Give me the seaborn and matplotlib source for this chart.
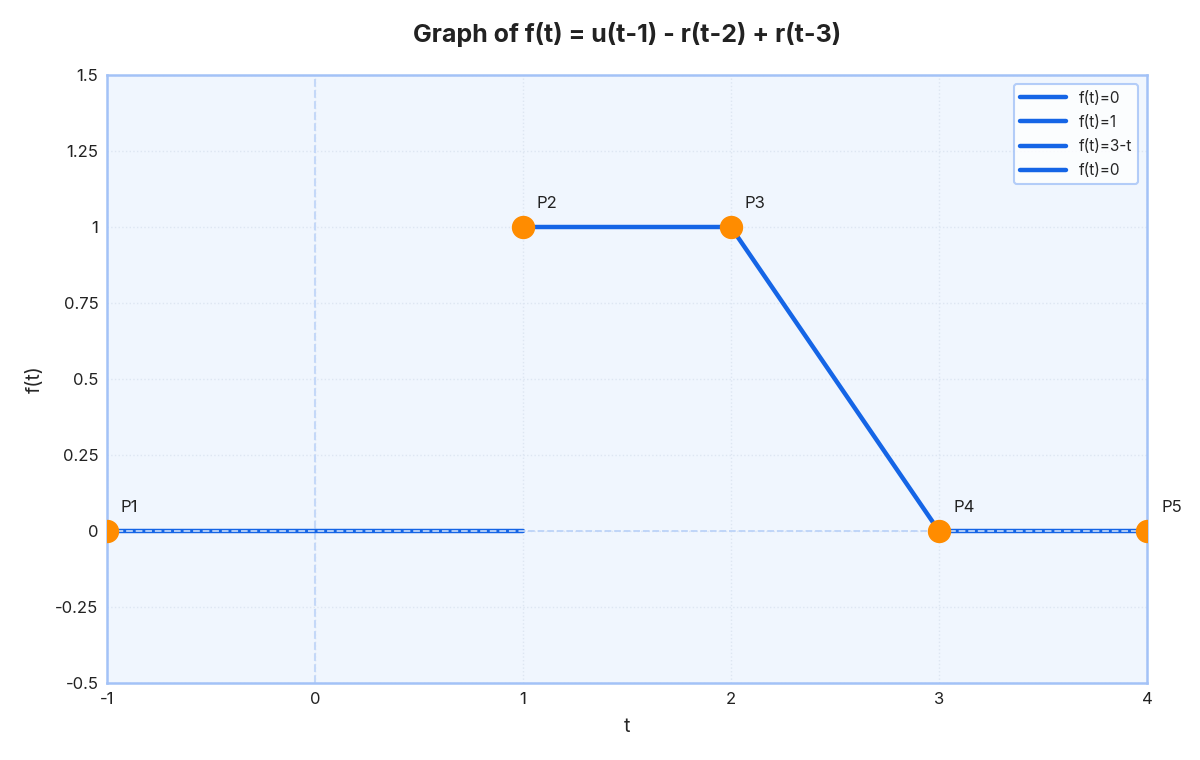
import matplotlib
matplotlib.use("Agg")
import matplotlib.pyplot as plt
import seaborn as sns
import pandas as pd

# piecewise segments of f(t)
seg_labels = ["f(t)=0", "f(t)=1", "f(t)=3-t", "f(t)=0"]
seg_t = [[-1, 1], [1, 2], [2, 3], [3, 4]]
seg_f = [[0, 0], [1, 1], [1, 0], [0, 0]]

# key points
pt_names = ["P1", "P2", "P3", "P4", "P5"]
pt_t = [-1, 1, 2, 3, 4]
pt_f = [0, 1, 1, 0, 0]

x_ticks = [-1, 0, 1, 2, 3, 4]
y_ticks = [-0.5, -0.25, 0, 0.25, 0.5, 0.75, 1, 1.25, 1.5]

LINE = "#1565e6"
DOT = "#ff8c00"
EDGE = "#a3c2f7"

sns.set_theme(style="white")
plt.rcParams["font.family"] = ["Inter", "DejaVu Sans"]

fig, ax = plt.subplots(figsize=(12, 7.6), dpi=100)
fig.subplots_adjust(left=0.089, right=0.956, top=0.901, bottom=0.101)
ax.set_facecolor("#f0f6fe")

for lab, ts, fs in zip(seg_labels, seg_t, seg_f):
    df = pd.DataFrame({"t": ts, "f": fs})
    sns.lineplot(data=df, x="t", y="f", ax=ax, color=LINE, linewidth=3.2,
                 label=lab, zorder=3)

ax.axhline(0, color="#bcd3f8", linestyle="--", linewidth=1.3, zorder=4)
ax.axvline(0, color="#c4d8f8", linestyle="--", linewidth=1.5, zorder=1)

ax.scatter(pt_t, pt_f, s=250, color=DOT, zorder=5, clip_on=True)
for name, t, f in zip(pt_names, pt_t, pt_f):
    ax.annotate(name, (t, f), xytext=(10, 14), textcoords="offset points",
                fontsize=12, color="#222222", annotation_clip=False)

ax.set_xlim(-1, 4)
ax.set_ylim(-0.5, 1.5)
ax.set_xticks(x_ticks)
ax.set_yticks(y_ticks)
ax.set_xticklabels([f"{v:g}" for v in x_ticks], fontsize=12, color="#222222")
ax.set_yticklabels([f"{v:g}" for v in y_ticks], fontsize=12, color="#222222")
ax.tick_params(length=0, pad=6)
ax.grid(True, linestyle=":", color="#dde6f2", linewidth=1)

for sp in ax.spines.values():
    sp.set_color(EDGE)
    sp.set_linewidth(1.8)

ax.set_xlabel("t", fontsize=14, labelpad=8)
ax.set_ylabel("f(t)", fontsize=14, labelpad=8)
ax.set_title("Graph of f(t) = u(t-1) - r(t-2) + r(t-3)", fontsize=18,
             fontweight="bold", pad=24, color="#222222")

leg = ax.legend(loc="upper right", fontsize=11, frameon=True, facecolor="white",
                edgecolor=EDGE, handlelength=3, labelspacing=0.6,
                borderaxespad=0.6)
leg.get_frame().set_linewidth(1.5)

fig.savefig("out.png", dpi=100)
